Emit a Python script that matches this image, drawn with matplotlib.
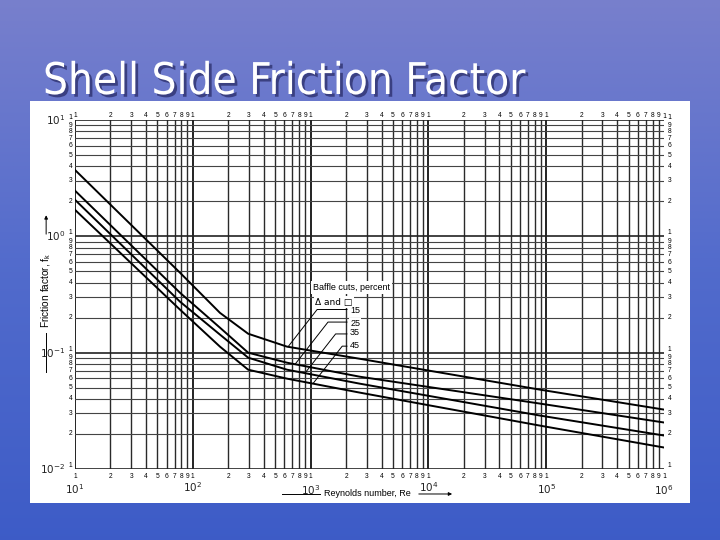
import numpy as np
import matplotlib
matplotlib.use("Agg")
import matplotlib.pyplot as plt
import matplotlib.patheffects as pe
from matplotlib.patches import Rectangle
from matplotlib.transforms import blended_transform_factory

re_pts = [10, 78, 170, 295, 630, 2600, 88500, 1e6]
f_15 = [3.72, 0.486, 0.220, 0.1455, 0.1127, 0.0887, 0.0481, 0.0324]
f_25 = [2.47, 0.327, 0.164, 0.100, 0.0820, 0.0622, 0.0365, 0.0251]
f_35 = [2.06, 0.274, 0.143, 0.0906, 0.0714, 0.0542, 0.0288, 0.0194]
f_45 = [1.69, 0.234, 0.1127, 0.0714, 0.0598, 0.0454, 0.0236, 0.0153]
baffle_cuts = ['15', '25', '35', '45']
leader_re = [643, 738, 896, 1047]

x_decades = [1, 2, 3, 4, 5, 6]
y_decades = [1, 0, -1, -2]
minor_digits = [1, 2, 3, 4, 5, 6, 7, 8, 9]

W, H = 720, 540
fig = plt.figure(figsize=(7.2, 5.4), dpi=100)

# slide background
bg = fig.add_axes([0, 0, 1, 1], zorder=0)
grad = np.linspace(0, 1, 256)[:, None]
top = np.array([0.47, 0.50, 0.80])
mid = np.array([0.32, 0.42, 0.80])
bot = np.array([0.24, 0.36, 0.78])
img = np.where(grad[..., None] < 0.5,
               top + (mid - top) * (grad[..., None] / 0.5),
               mid + (bot - mid) * ((grad[..., None] - 0.5) / 0.5))
img = np.repeat(img, 4, axis=1)
bg.imshow(img, aspect='auto', extent=[0, 1, 0, 1], origin='upper')
bg.set_xlim(0, 1)
bg.set_ylim(0, 1)
bg.axis('off')

# white panel holding the scanned chart
fig.patches.append(Rectangle((30 / W, 1 - 503 / H), 660 / W, 402 / H,
                             transform=fig.transFigure, facecolor='white',
                             edgecolor='none', zorder=1))

fig.text(43 / W, 1 - 94 / H, 'Shell Side Friction Factor', color='white',
         fontsize=31.5, family='DejaVu Sans', fontstretch='condensed',
         va='baseline', ha='left', zorder=3,
         path_effects=[pe.SimplePatchShadow(offset=(2, -2), shadow_rgbFace='#1a1a50', alpha=0.6),
                       pe.Normal()])

L, R, T, B = 75, 664, 120, 469
ax = fig.add_axes([L / W, 1 - B / H, (R - L) / W, (B - T) / H], zorder=2)
ax.set_facecolor('none')
ax.set_xscale('log')
ax.set_yscale('log')
ax.set_xlim(10, 1e6)
ax.set_ylim(0.01, 10)
for s in ax.spines.values():
    s.set_visible(False)
ax.set_xticks([])
ax.set_yticks([])
ax.minorticks_off()

# grid
for d in x_decades[:-1]:
    for k in minor_digits:
        ax.axvline(k * 10 ** d, color='#111' if k == 1 else '#2a2a2a',
                   lw=1.3 if k == 1 else 1.0, zorder=1)
ax.axvline(10 ** x_decades[-1], color='#777', lw=0.6, zorder=1)
for d in y_decades[1:]:
    for k in minor_digits:
        ax.axhline(k * 10 ** d, color='#222' if k == 1 else '#444',
                   lw=1.2 if k == 1 else 0.8, zorder=1)
ax.axhline(10 ** y_decades[0], color='#222', lw=1.2, zorder=1)

curves = [f_15, f_25, f_35, f_45]
for f in curves:
    ax.plot(re_pts, f, color='black', lw=1.4, zorder=3)

# inner tick digits
fs = 4.8
tx = blended_transform_factory(ax.transData, ax.transAxes)
ty = blended_transform_factory(ax.transAxes, ax.transData)
for d in x_decades[:-1]:
    for k in minor_digits:
        ax.text(k * 10 ** d, 1.004, str(k), transform=tx, fontsize=fs,
                ha='center', va='bottom', family='Liberation Sans')
        ax.text(k * 10 ** d, -0.012, str(k), transform=tx, fontsize=fs,
                ha='center', va='top', family='Liberation Sans')
ax.text(1e6, 1.004, '1', transform=tx, fontsize=fs, ha='center', va='bottom')
ax.text(1e6, -0.012, '1', transform=tx, fontsize=fs, ha='center', va='top')

for i, d in enumerate(x_decades):
    dy = [-0.038, -0.033, -0.040, -0.033, -0.038, -0.040][i]
    ax.text(10 ** d, dy, r'$\mathregular{10^{%d}}$' % d, transform=tx,
            fontsize=7.5, ha='center', va='top', color='#222')

for d in y_decades[1:]:
    for k in minor_digits:
        va = 'bottom' if k == 1 else 'center'
        ax.text(-0.004, k * 10 ** d, str(k), transform=ty, fontsize=fs,
                ha='right', va=va, family='Liberation Sans')
        ax.text(1.006, k * 10 ** d, str(k), transform=ty, fontsize=fs,
                ha='left', va=va, family='Liberation Sans')
ax.text(-0.004, 10, '1', transform=ty, fontsize=fs, ha='right', va='bottom')
ax.text(1.006, 10, '1', transform=ty, fontsize=fs, ha='left', va='bottom')
for d in y_decades:
    ax.text(-0.016, 10 ** d, r'$\mathregular{10^{%d}}$' % d, transform=ty,
            fontsize=7.5, ha='right', va='center', color='#222')

# legend text and leader lines
ax.text(0.404, 0.519, 'Baffle cuts, percent', transform=ax.transAxes,
        fontsize=6.5, ha='left', va='center', family='Liberation Sans', zorder=4,
        bbox=dict(facecolor='white', edgecolor='none', pad=1.5))
ax.text(0.4075, 0.4785, '\u0394 and \u25a1', transform=ax.transAxes,
        fontsize=6.5, ha='left', va='center', family='DejaVu Sans', zorder=4,
        bbox=dict(facecolor='white', edgecolor='none', pad=1.0))
label_y = [0.453, 0.418, 0.390, 0.355]
start_y = [0.457, 0.421, 0.387, 0.352]
logre = np.log10(re_pts)
for lab, ly, sy, r, f in zip(baffle_cuts, label_y, start_y, leader_re, curves):
    ax.text(0.467, ly, lab, transform=ax.transAxes, fontsize=6.5,
            ha='left', va='center', family='Liberation Sans', zorder=4,
            bbox=dict(facecolor='white', edgecolor='none', pad=0.5))
    fy = 10 ** np.interp(np.log10(r), logre, np.log10(f))
    ax.annotate('', xy=(r, fy), xycoords='data', xytext=(0.462, sy),
                textcoords='axes fraction',
                arrowprops=dict(arrowstyle='-', lw=0.7, color='black',
                                shrinkA=0, shrinkB=0,
                                connectionstyle='angle,angleA=0,angleB=52,rad=0'),
                zorder=4)

# axis titles
ax.text(-0.049, 0.513, r'Friction factor, $\mathregular{f_k}$', transform=ax.transAxes,
        rotation=90, fontsize=7.3, ha='center', va='center', family='Liberation Sans')
ax.annotate('', xy=(-0.049, 0.735), xytext=(-0.049, 0.665), xycoords='axes fraction',
            arrowprops=dict(arrowstyle='-|>', lw=0.7, color='black', mutation_scale=5),
            annotation_clip=False)
ax.plot([-0.049, -0.049], [0.39, 0.278], transform=ax.transAxes, color='black',
        lw=0.7, clip_on=False)
ax.text(0.496, -0.0716, 'Reynolds number, Re', transform=ax.transAxes,
        fontsize=6.5, ha='center', va='center', family='Liberation Sans')
ax.plot([0.351, 0.416], [-0.0716, -0.0716], transform=ax.transAxes, color='black',
        lw=0.7, clip_on=False)
ax.annotate('', xy=(0.645, -0.0716), xytext=(0.579, -0.0716), xycoords='axes fraction',
            arrowprops=dict(arrowstyle='-|>', lw=0.7, color='black', mutation_scale=5),
            annotation_clip=False)

fig.savefig('out.png', dpi=100)
